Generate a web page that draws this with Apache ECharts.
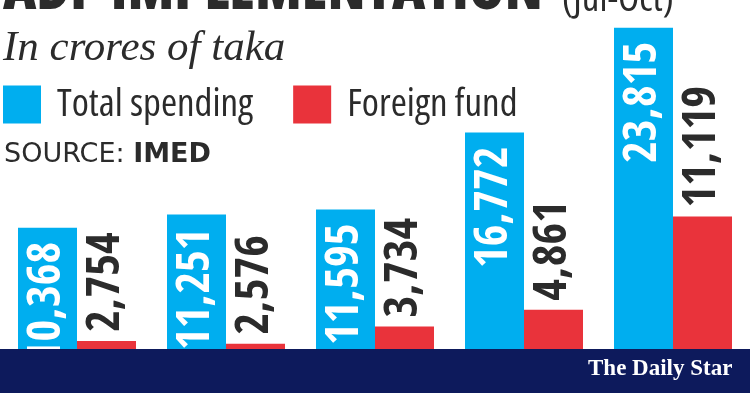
<!DOCTYPE html>
<html>
<head>
<meta charset="utf-8">
<script src="https://cdn.jsdelivr.net/npm/echarts@6/dist/echarts.min.js"></script>
<style>
html,body{margin:0;padding:0;background:#fff;}
#chart{width:750px;height:393px;}
</style>
</head>
<body>
<div id="chart"></div>
<script>
var categories = ['Year 1', 'Year 2', 'Year 3', 'Year 4', 'Year 5'];
var seriesNames = ['Total spending', 'Foreign fund'];
var totalSpending = [10368, 11251, 11595, 16772, 23815];
var foreignFund = [2754, 2576, 3734, 4861, 11119];
var titleMain = 'ADP IMPLEMENTATION';
var titlePeriod = '(Jul-Oct)';
var subtitleText = 'In crores of taka';
var sourceLabel = 'SOURCE: ';
var sourceName = 'IMED';
var brandText = 'The Daily Star';

var BLUE = '#00aeef';
var RED = '#e9333b';
var NAVY = '#0d1a5c';
var DARK = '#2b2b2b';
var NARROW = '"Open Sans Condensed", "Roboto Condensed", sans-serif';
var OPEN = '"Open Sans", sans-serif';

function fmt(p) { return Number(p.value).toLocaleString('en-US'); }

var chart = echarts.init(document.getElementById('chart'), null, {renderer: 'canvas'});
chart.setOption({
  animation: false,
  backgroundColor: '#ffffff',
  title: [
    {
      text: titleMain, left: 3, top: -37, padding: 0,
      textStyle: {fontFamily: OPEN, fontStyle: 'condensed', fontWeight: 800, fontSize: 58, color: DARK}
    },
    {
      text: titlePeriod, left: 562, top: -20, padding: 0,
      textStyle: {fontFamily: OPEN, fontStyle: 'condensed', fontWeight: 'normal', fontSize: 39, color: DARK}
    },
    {
      text: subtitleText, left: 3, top: 27, padding: 0,
      textStyle: {fontFamily: '"Liberation Serif", serif', fontStyle: 'italic', fontWeight: 'normal', fontSize: 43, color: DARK}
    },
    {
      text: '{r|' + sourceLabel + '}{b|' + sourceName + '}', left: 4, top: 141, padding: 0,
      textStyle: {
        fontFamily: '"DejaVu Sans", sans-serif', fontSize: 27, color: DARK,
        rich: {
          r: {fontFamily: '"DejaVu Sans", sans-serif', fontSize: 27, color: DARK, fontWeight: 'normal'},
          b: {fontFamily: '"DejaVu Sans", sans-serif', fontSize: 27, color: DARK, fontWeight: 'bold'}
        }
      }
    }
  ],
  legend: {
    left: 3, top: 85, padding: 0,
    itemWidth: 38, itemHeight: 38, itemGap: 40,
    icon: 'rect',
    data: seriesNames,
    textStyle: {fontFamily: OPEN, fontStyle: 'condensed', fontWeight: 'normal', fontSize: 39, color: DARK, padding: [0, 0, 0, 11]}
  },
  grid: {left: 2.5, right: 2.5, top: 10, bottom: 11, containLabel: false},
  xAxis: {
    type: 'category', data: categories,
    axisLine: {show: false}, axisTick: {show: false}, axisLabel: {show: false}, splitLine: {show: false}
  },
  yAxis: {
    type: 'value', min: 0, max: 25000,
    axisLine: {show: false}, axisTick: {show: false}, axisLabel: {show: false}, splitLine: {show: false}
  },
  series: [
    {
      name: seriesNames[0], type: 'bar', data: totalSpending,
      barWidth: 59, barGap: '0%',
      itemStyle: {color: BLUE},
      label: {
        show: true, position: 'insideTop', distance: 14, rotate: 90,
        align: 'right', verticalAlign: 'middle',
        formatter: fmt,
        fontFamily: NARROW, fontWeight: 'bold', fontSize: 47, color: '#ffffff'
      }
    },
    {
      name: seriesNames[1], type: 'bar', data: foreignFund,
      barWidth: 59, barGap: '0%',
      itemStyle: {color: RED},
      label: {
        show: true, position: 'top', distance: 9, rotate: 90,
        align: 'left', verticalAlign: 'middle',
        formatter: fmt,
        fontFamily: NARROW, fontWeight: 'bold', fontSize: 47, color: DARK
      }
    }
  ],
  graphic: [
    {
      type: 'rect', z: 100, left: 0, top: 349,
      shape: {width: 750, height: 44},
      style: {fill: NAVY}
    },
    {
      type: 'text', z: 101, left: 588, top: 358,
      style: {text: brandText, fill: '#ffffff', font: 'bold 23px "Liberation Serif", serif'}
    }
  ]
});
</script>
</body>
</html>
